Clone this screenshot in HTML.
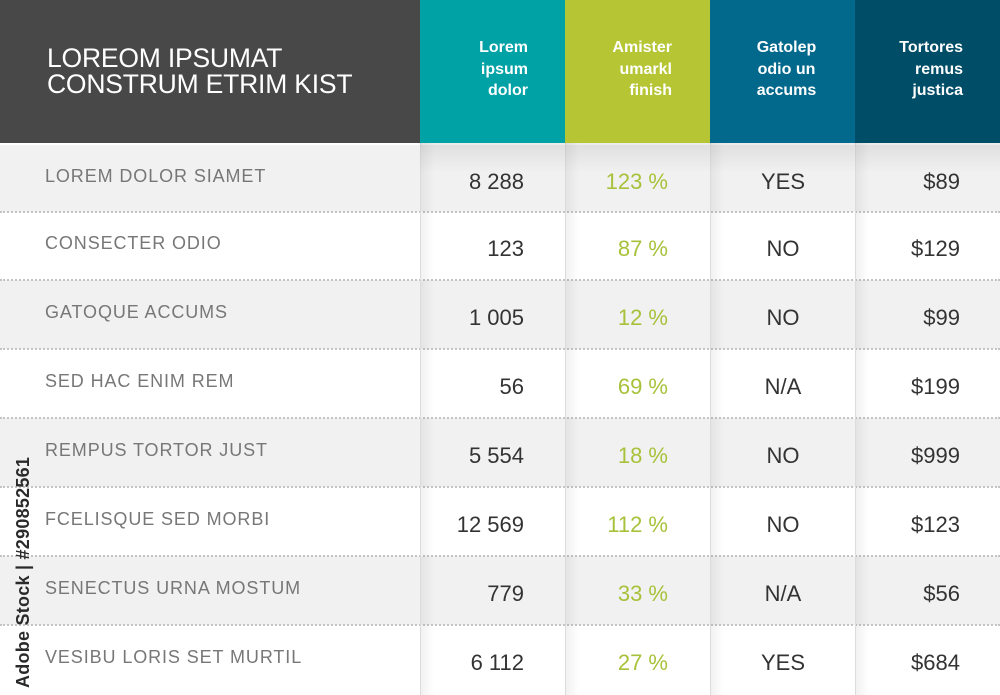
<!DOCTYPE html>
<html><head><meta charset="utf-8">
<style>
*{margin:0;padding:0;box-sizing:border-box}
body{width:1000px;height:695px;overflow:hidden;background:#fff;font-family:"Liberation Sans",sans-serif;position:relative}
.abs{position:absolute}
.title{left:47px;top:46px;color:#fff;font-size:26.5px;line-height:25.5px;letter-spacing:-0.2px}
.hcol{top:0;height:143px;color:#fff;font-weight:bold;font-size:16px;line-height:21.5px;padding-top:37px}
.row{left:0;width:1000px}
.lbl{left:45px;color:#777;font-size:18px;letter-spacing:0.9px}
.cell{font-size:22px;color:#333}
.dot{left:0;width:1000px;height:0;border-top:2px dotted #c4c4c4}
.vline{top:143px;height:552px;width:1px;background:#dcdcdc}
.shade{top:143px;height:552px;width:14px;background:linear-gradient(to right,rgba(0,0,0,0.06),rgba(0,0,0,0))}
</style></head><body>
<div class="abs" style="left:0;top:0;width:420px;height:143px;background:#484848"></div>
<div class="abs title">LOREOM IPSUMAT<br>CONSTRUM ETRIM KIST</div>
<div class="abs hcol" style="left:420px;width:145px;background:#00a2a6;text-align:right;padding-right:37px">Lorem<br>ipsum<br>dolor</div>
<div class="abs hcol" style="left:565px;width:145px;background:#b5c534;text-align:right;padding-right:38px">Amister<br>umarkl<br>finish</div>
<div class="abs hcol" style="left:710px;width:145px;background:#02688c;text-align:center;padding-left:8px">Gatolep<br>odio un<br>accums</div>
<div class="abs hcol" style="left:855px;width:145px;background:#004d68;text-align:right;padding-right:37px">Tortores<br>remus<br>justica</div>
<div id="rows"></div>
<div class="abs" style="left:13px;top:688px;transform:rotate(-90deg);transform-origin:0 0;white-space:nowrap;font-weight:bold;font-size:18px;letter-spacing:0.25px;color:#2a2a2a;width:232px">Adobe Stock | #290852561</div>
<script>
const labels=["LOREM DOLOR SIAMET","CONSECTER ODIO","GATOQUE ACCUMS","SED HAC ENIM REM","REMPUS TORTOR JUST","FCELISQUE SED MORBI","SENECTUS URNA MOSTUM","VESIBU LORIS SET MURTIL"];
const col1=["8 288","123","1 005","56","5 554","12 569","779","6 112"];
const col2=["123 %","87 %","12 %","69 %","18 %","112 %","33 %","27 %"];
const col3=["YES","NO","NO","N/A","NO","NO","N/A","YES"];
const col4=["$89","$129","$99","$199","$999","$123","$56","$684"];
const rowTops=[145,212,280,349,418,487,556,625,695];
const c=document.getElementById('rows');
function add(html){c.insertAdjacentHTML('beforeend',html);}
for(let i=0;i<labels.length;i++){
  const t=rowTops[i],h=rowTops[i+1]-t,bg=i%2===0?'#f1f1f1':'#fff';
  add(`<div class="abs row" style="top:${t}px;height:${h}px;background:${bg}"></div>`);
  const mid=t+h/2;
  add(`<div class="abs lbl" style="top:${mid-13}px">${labels[i]}</div>`);
  add(`<div class="abs cell" style="top:${mid-10}px;left:420px;width:104px;text-align:right">${col1[i]}</div>`);
  add(`<div class="abs cell" style="top:${mid-10}px;left:565px;width:103px;text-align:right;color:#a7c23a">${col2[i]}</div>`);
  add(`<div class="abs cell" style="top:${mid-10}px;left:718px;width:130px;text-align:center">${col3[i]}</div>`);
  add(`<div class="abs cell" style="top:${mid-10}px;left:855px;width:105px;text-align:right">${col4[i]}</div>`);
  if(i>0) add(`<div class="abs dot" style="top:${t-1}px"></div>`);
}
[420,565,710,855].forEach((x,k)=>{
  add(`<div class="abs shade" style="left:${x}px"></div>`);
  add(`<div class="abs vline" style="left:${x}px"></div>`);
});
add(`<div class="abs" style="left:420px;top:143px;width:580px;height:30px;background:linear-gradient(rgba(0,0,0,0.08),rgba(0,0,0,0))"></div>`);
</script>
</body></html>
